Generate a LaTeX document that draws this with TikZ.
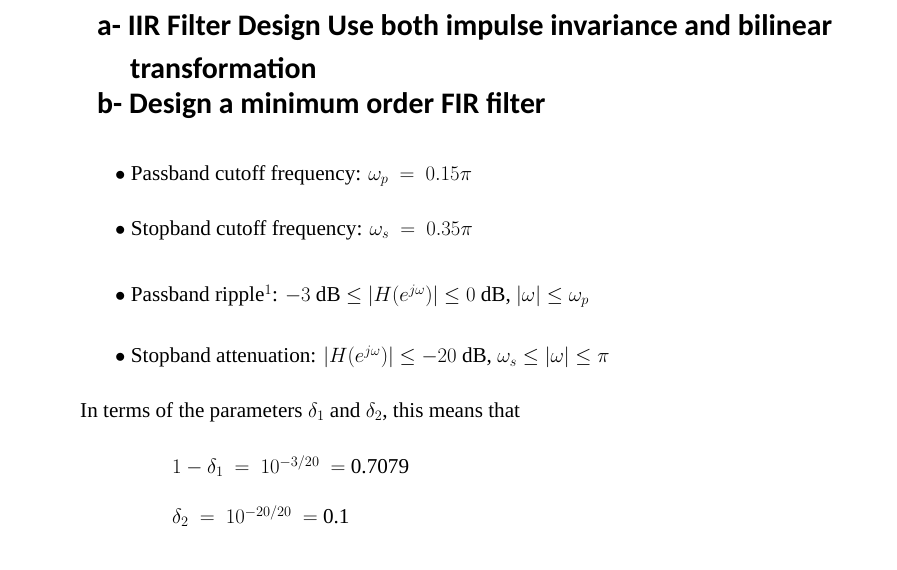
\documentclass[tikz,border=0pt]{standalone}
\usepackage{fontspec}
\setmainfont{Liberation Serif}
\newfontfamily\headfont{Carlito}
\begin{document}
\begin{tikzpicture}[x=1pt,y=-1pt,
  head/.style={anchor=west,inner sep=0pt,font=\headfont\bfseries\fontsize{29.8}{34}\selectfont},
  body/.style={anchor=west,inner sep=0pt,font=\fontsize{21.2}{25}\selectfont}]
\fill[white] (0,0) rectangle (897,570);
\useasboundingbox (0,0) rectangle (897,570);
\node[head] (a) at (97,28) {a- IIR Filter Design Use both impulse invariance and bilinear};
\node[head] (a2) at (130,68) {transformation};
\node[head] (b) at (97,106) {b- Design a minimum order FIR filter};
\node[body] (p1) at (115,176) {$\bullet$ Passband cutoff frequency: $\omega_p\ =\ 0.15\pi$};
\node[body] (p2) at (115,230) {$\bullet$ Stopband cutoff frequency: $\omega_s\ =\ 0.35\pi$};
\node[body] (p3) at (115,296) {$\bullet$ Passband ripple$^1$: $-3$ dB $\le \bigl|H(e^{j\omega})\bigr| \le 0$ dB, $|\omega| \le \omega_p$};
\node[body] (p4) at (115,357) {$\bullet$ Stopband attenuation: $\bigl|H(e^{j\omega})\bigr| \le -20$ dB, $\omega_s \le |\omega| \le \pi$};
\node[body] (t) at (80,412) {In terms of the parameters $\delta_1$ and $\delta_2$, this means that};
\node[body] (e1) at (172,466) {$1-\delta_1\ =\ 10^{-3/20}\ =\ $0.7079};
\node[body] (e2) at (172,516) {$\delta_2\ =\ 10^{-20/20}\ =\ $0.1};
\end{tikzpicture}
\end{document}
